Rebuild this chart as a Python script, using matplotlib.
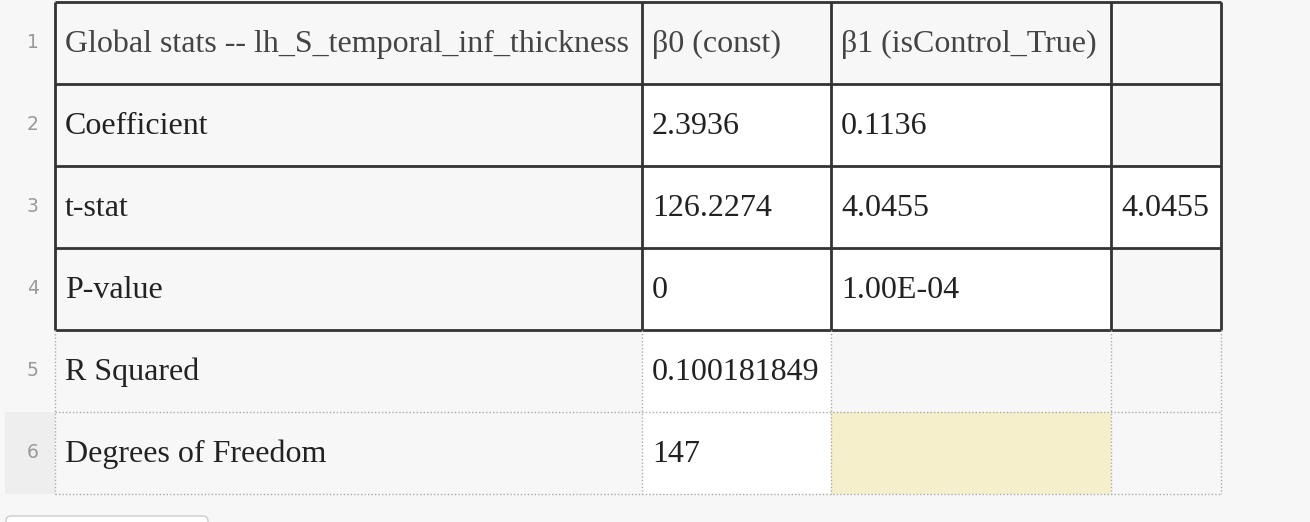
import matplotlib.pyplot as plt
from matplotlib.patches import Rectangle, FancyBboxPatch

# table content
header = ["Global stats -- lh_S_temporal_inf_thickness", "β0 (const)", "β1 (isControl_True)", ""]
row_labels = ["Coefficient", "t-stat", "P-value", "R Squared", "Degrees of Freedom"]
col_b0 = ["2.3936", "126.2274", "0", "0.100181849", "147"]
col_b1 = ["0.1136", "4.0455", "1.00E-04", "", ""]
col_extra = ["", "4.0455", "", "", ""]

col_x = [55, 642, 831, 1111, 1221]
row_y = [2, 84, 166, 248, 330, 412, 494]
bg = "#f7f7f7"

fig = plt.figure(figsize=(13.1, 5.22), dpi=100)
fig.patch.set_facecolor(bg)
ax = fig.add_axes([0, 0, 1, 1])
ax.set_xlim(0, 1310)
ax.set_ylim(522, 0)
ax.axis("off")

rows = [header] + [[row_labels[i], col_b0[i], col_b1[i], col_extra[i]] for i in range(5)]

for r, cells in enumerate(rows):
    y0, y1 = row_y[r], row_y[r + 1]
    # row number
    if r == 5:
        ax.add_patch(Rectangle((5, y0), col_x[0] - 5, y1 - y0, color="#eeeeee", lw=0))
    ax.text(33, (y0 + y1) / 2, str(r + 1), ha="center", va="center",
            fontsize=13.5, color="#999999", family="DejaVu Sans")
    for c, txt in enumerate(cells):
        x0, x1 = col_x[c], col_x[c + 1]
        color = bg
        if r > 0 and c in (1, 2) and txt:
            color = "white"
        if r == 2 and c == 3:
            color = "white"
        if r == 5 and c == 2:
            color = "#f5efcc"
        ax.add_patch(Rectangle((x0, y0), x1 - x0, y1 - y0, color=color, lw=0))
        tc = "#444444" if r == 0 else "#222222"
        ax.text(x0 + 10, (y0 + y1) / 2 + 1, txt, ha="left", va="center",
                fontsize=23, color=tc, family="Liberation Serif")

# solid grid for the first four rows
for y in row_y[:5]:
    ax.plot([col_x[0], col_x[-1]], [y, y], color="#333333", lw=2, solid_capstyle="butt")
for x in col_x:
    ax.plot([x, x], [row_y[0], row_y[4]], color="#333333", lw=2, solid_capstyle="butt")
# dotted grid below
for y in row_y[5:]:
    ax.plot([col_x[0], col_x[-1]], [y, y], color="#aaaaaa", lw=1, ls=(0, (1, 1.5)))
for x in col_x:
    ax.plot([x, x], [row_y[4], row_y[6]], color="#aaaaaa", lw=1, ls=(0, (1, 1.5)))

# partially visible button at the bottom
ax.add_patch(FancyBboxPatch((6, 516), 202, 30, boxstyle="round,pad=0,rounding_size=5",
                            fc="white", ec="#cccccc", lw=1))

fig.savefig("out.png", dpi=100, facecolor=bg)
